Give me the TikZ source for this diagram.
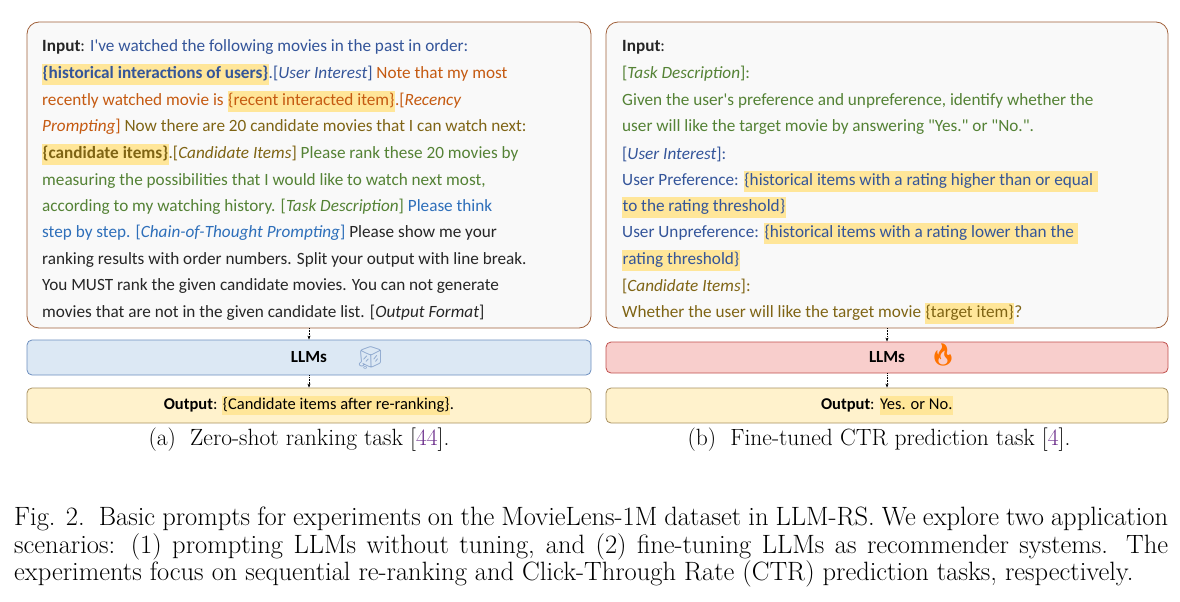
\documentclass[tikz,border=0pt]{standalone}
\usepackage{fontspec}
\newfontfamily\carl{Carlito}
\newfontfamily\emo{Noto Emoji}
\definecolor{cblue}{HTML}{34559A}
\definecolor{corange}{HTML}{C55A11}
\definecolor{colive}{HTML}{7F6414}
\definecolor{cgreen}{HTML}{548235}
\definecolor{ccot}{HTML}{2E6FBA}
\definecolor{ctext}{HTML}{262626}
\definecolor{hlc}{HTML}{FFE699}
\definecolor{bbord}{HTML}{A0603A}
\definecolor{bfill}{HTML}{F9F9F9}
\definecolor{lbfill}{HTML}{DCE8F4}
\definecolor{lbbord}{HTML}{6C8EBF}
\definecolor{lrfill}{HTML}{F8CECC}
\definecolor{lrbord}{HTML}{C0504D}
\definecolor{ofill}{HTML}{FFF2CC}
\definecolor{obord}{HTML}{A89060}
\definecolor{citec}{HTML}{6A2C8A}
\newcommand{\hlt}[1]{{\setlength{\fboxsep}{0.5pt}\colorbox{hlc}{\strut #1}}}
\usetikzlibrary{arrows.meta}
\tikzset{
 bigbox/.style={draw=bbord,fill=bfill,rounded corners=12pt,line width=0.8pt},
 llmbox/.style={rounded corners=5pt,line width=0.8pt},
 outbox/.style={draw=obord,fill=ofill,rounded corners=5pt,line width=0.8pt},
 ln/.style={anchor=west,inner sep=0pt,font=\carl\fontsize{17.2}{20}\selectfont,text=ctext},
 conn/.style={densely dotted,-{Stealth[length=4pt,width=3pt]},line width=0.6pt},
 captext/.style={font=\fontsize{23.5}{26}\selectfont,inner sep=0pt}
}
\begin{document}
\begin{tikzpicture}[x=1pt,y=-1pt]
\useasboundingbox (0,0) rectangle (1180,602);
% left
\draw[bigbox] (27,22) rectangle (591,328);
\node[draw=lbbord,fill=lbfill,llmbox,minimum width=564pt,minimum height=35pt] (llmA) at (309,357.5) {};
\node[font=\carl\bfseries\fontsize{17}{18}\selectfont] (llmAt) at (309,357.5) {LLMs};
\node[font=\emo\fontsize{22}{22}\selectfont,text=lbbord!80] (ice) at (370,357.5) {🧊};
\node[outbox,minimum width=564pt,minimum height=35pt,font=\carl\fontsize{16.5}{18}\selectfont] (outA) at (309,405.5) {\textbf{Output}: \hlt{\{Candidate items after re-ranking\}}.};
\coordinate (inA) at (309,328);
\draw[conn] (inA) -- (llmA.north);
\draw[conn] (llmA.south) -- (outA.north);
\node[ln] (a1) at (42,47) {\textbf{Input}: \color{cblue}I've watched the following movies in the past in order:};
\node[ln] (a2) at (42,74) {\hlt{\color{cblue}\textbf{\{historical interactions of users\}}}\color{cblue}.[\textit{User Interest}] \color{corange}Note that my most};
\node[ln] (a3) at (42,101) {\color{corange}recently watched movie is \hlt{\{recent interacted item\}}.[\textit{Recency}};
\node[ln] (a4) at (42,127) {\color{corange}\textit{Prompting}] \color{colive}Now there are 20 candidate movies that I can watch next:};
\node[ln] (a5) at (42,154) {\color{colive}\hlt{\textbf{\{candidate items\}}}.[\textit{Candidate Items}] \color{cgreen}Please rank these 20 movies by};
\node[ln] (a6) at (42,181) {\color{cgreen}measuring the possibilities that I would like to watch next most,};
\node[ln] (a7) at (42,207) {\color{cgreen}according to my watching history. [\textit{Task Description}] \color{ccot}Please think};
\node[ln] (a8) at (42,233) {\color{ccot}step by step. [\textit{Chain-of-Thought Prompting}] \color{ctext}Please show me your};
\node[ln] (a9) at (42,260) {ranking results with order numbers. Split your output with line break.};
\node[ln] (a10) at (42,286) {You MUST rank the given candidate movies. You can not generate};
\node[ln] (a11) at (42,313) {movies that are not in the given candidate list. [\textit{Output Format}]};
\node[captext] (capA) at (299,440) {(a)\ \ Zero-shot ranking task [\textcolor{citec}{44}].};
% right
\draw[bigbox] (606,22) rectangle (1168,328);
\node[draw=lrbord,fill=lrfill,llmbox,minimum width=562pt,minimum height=31pt] (llmB) at (887,357.5) {};
\node[font=\carl\bfseries\fontsize{17}{18}\selectfont] (llmBt) at (887,357.5) {LLMs};
\node[font=\emo\fontsize{22}{22}\selectfont,text=orange!90!red] (fire) at (943,355) {🔥};
\node[outbox,minimum width=562pt,minimum height=35pt,font=\carl\fontsize{16.5}{18}\selectfont] (outB) at (887,405.5) {\textbf{Output}: \hlt{Yes. or No.}};
\coordinate (inB) at (887,328);
\draw[conn] (inB) -- (llmB.north);
\draw[conn] (llmB.south) -- (outB.north);
\node[ln] (b1) at (622,47) {\textbf{Input}:};
\node[ln] (b2) at (622,74) {\color{cgreen}[\textit{Task Description}]:};
\node[ln] (b3) at (622,101) {\color{cgreen}Given the user's preference and unpreference, identify whether the};
\node[ln] (b4) at (622,127) {\color{cgreen}user will like the target movie by answering "Yes." or "No.".};
\node[ln] (b5) at (622,154) {\color{cblue}[\textit{User Interest}]:};
\node[ln] (b6) at (622,181) {\color{cblue}User Preference: \hlt{\{historical items with a rating higher than or equal\ }};
\node[ln] (b7) at (622,207) {\color{cblue}\hlt{to the rating threshold\}}};
\node[ln] (b8) at (622,233) {\color{cblue}User Unpreference: \hlt{\{historical items with a rating lower than the\ }};
\node[ln] (b9) at (622,260) {\color{cblue}\hlt{rating threshold\}}};
\node[ln] (b10) at (622,286) {\color{colive}[\textit{Candidate Items}]:};
\node[ln] (b11) at (622,313) {\color{colive}Whether the user will like the target movie \hlt{\{target item\}}?};
\node[captext] (capB) at (879,440) {(b)\ \ Fine-tuned CTR prediction task [\textcolor{citec}{4}].};
% figure caption
\node[anchor=north west,inner sep=0pt,text width=1154pt,font=\fontsize{26.5}{27.5}\selectfont,align=justify] (fig) at (14,507) {Fig. 2.\ \ Basic prompts for experiments on the MovieLens-1M dataset in LLM-RS. We explore two application\linebreak scenarios: (1) prompting LLMs without tuning, and (2) fine-tuning LLMs as recommender systems. The\linebreak experiments focus on sequential re-ranking and Click-Through Rate (CTR) prediction tasks, respectively.};
\end{tikzpicture}
\end{document}
